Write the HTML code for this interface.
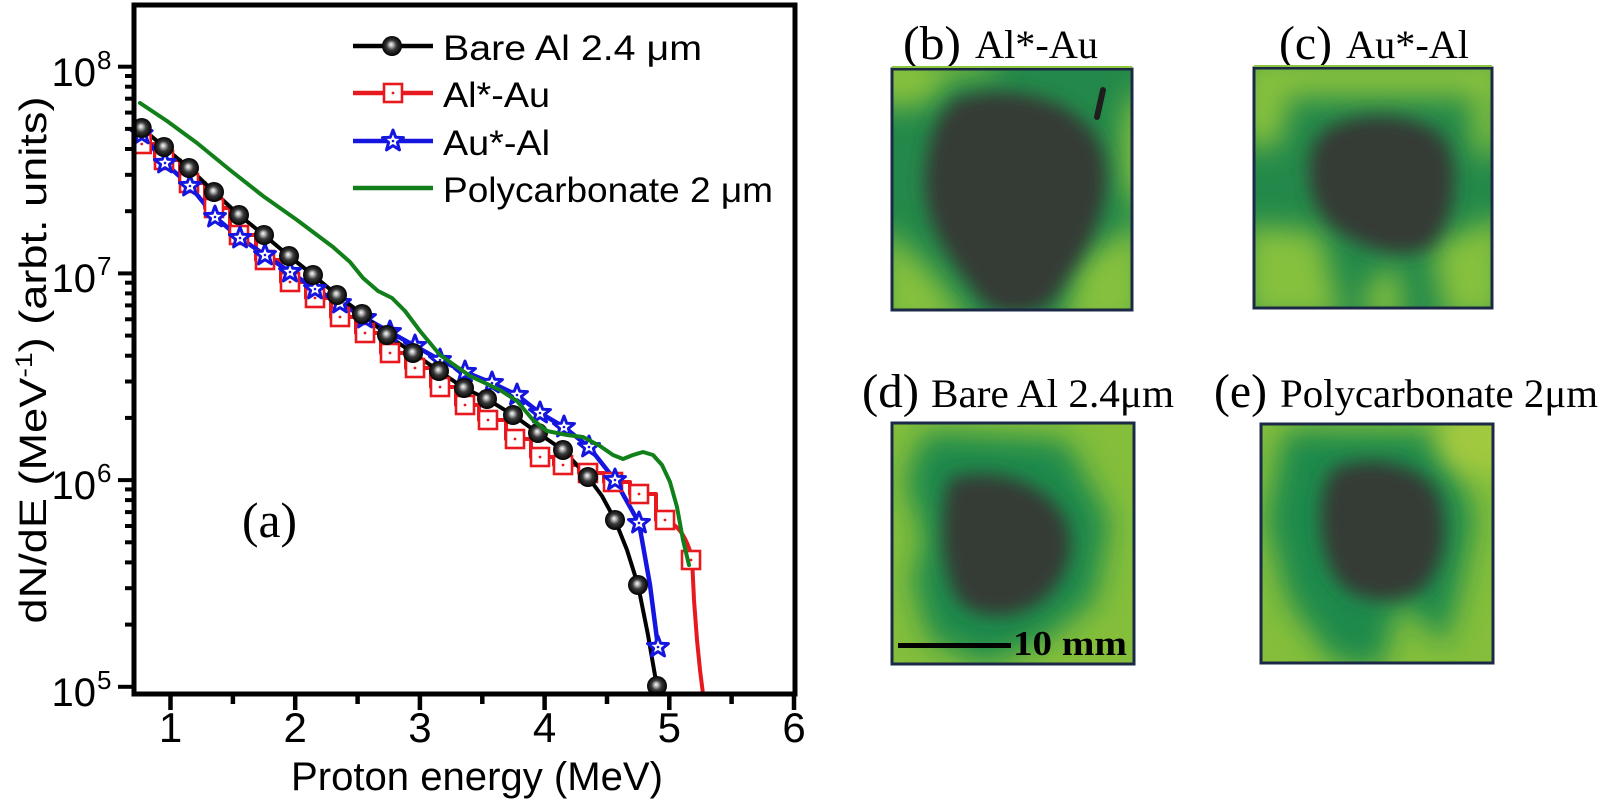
<!DOCTYPE html>
<html>
<head>
<meta charset="utf-8">
<style>
  html,body{margin:0;padding:0;background:#fff;}
  svg{display:block;}
</style>
</head>
<body>
<svg width="1600" height="804" viewBox="0 0 1600 804" xmlns="http://www.w3.org/2000/svg">
  <defs>
    <radialGradient id="sph" cx="0.5" cy="0.5" r="0.5" fx="0.45" fy="0.42">
      <stop offset="0" stop-color="#ffffff"/>
      <stop offset="0.22" stop-color="#b0b0b0"/>
      <stop offset="0.5" stop-color="#3a3a3a"/>
      <stop offset="1" stop-color="#000000"/>
    </radialGradient>
    <g id="mcirc"><circle r="10" fill="url(#sph)"/></g>
    <g id="msq"><rect x="-9" y="-9" width="18" height="18" fill="#fff" stroke="#e8191e" stroke-width="2.6"/><circle r="1.4" fill="#e8191e"/></g>
    <g id="mstar"><path d="M0,-11 L2.70,-3.72 L10.46,-3.40 L4.37,1.42 L6.47,8.90 L0,4.6 L-6.47,8.90 L-4.37,1.42 L-10.46,-3.40 L-2.70,-3.72 Z" fill="#fff" stroke="#1515e0" stroke-width="3" stroke-linejoin="round"/><circle r="1.3" fill="#1515e0"/></g>
    <filter id="b9" x="-30%" y="-30%" width="160%" height="160%"><feGaussianBlur stdDeviation="9"/></filter>
    <filter id="b14" x="-40%" y="-40%" width="180%" height="180%"><feGaussianBlur stdDeviation="14"/></filter>
    <clipPath id="cb"><rect x="892" y="69" width="240" height="241"/></clipPath>
    <clipPath id="cc"><rect x="1254" y="68" width="238" height="240"/></clipPath>
    <clipPath id="cd"><rect x="892" y="423" width="242" height="241"/></clipPath>
    <clipPath id="ce"><rect x="1261" y="424" width="232" height="239"/></clipPath>
  </defs>

  <!-- ================= CHART (a) ================= -->
  <g font-family="'Liberation Sans', Arial, sans-serif" fill="#000">
    <!-- series: red (Al*-Au) -->
    <path d="M136,144 H155 V160 H180 V183 H205 V208 H230 V235 H256 V260 H281 V282 H306 V298 H331 V317 H356 V333 H381 V353 H406 V368 H431 V387 H456 V405 H479 V420 H506 V439 H531 V457 H554 V465 H579 V473 H604 V482 H630 V494 H656 V520 L665,520 Q684,526 692,558 L694,600 L697,640 L700,670 L703,694"
          fill="none" stroke="#e8191e" stroke-width="4" stroke-linejoin="round"/>
    <!-- series: blue (Au*-Al) -->
    <polyline points="141.7,134 165,163 190,186 215,217 240,238 265,255 290,272 315,289 340,303 365,318 390,332 415,346 440,360 465,372 492,383 517,395 540,413 564,427 589,447 615,480 639,523 650,585 658,647"
          fill="none" stroke="#1515e0" stroke-width="4.5" stroke-linejoin="round" stroke-linecap="round"/>
    <!-- series: black (Bare Al) -->
    <polyline points="141.7,128 164,147 189,168 214,192 239,215 264,235 289,256 313,275 337,295 362,314 387,335 413,353 439,371 464,388 487,399 513,415 538,433 563,450 588,477 602,496 615,520 627,550 638,585 648,635 657,687 658,694"
          fill="none" stroke="#000" stroke-width="4" stroke-linejoin="round"/>

    <!-- red markers -->
    <g>
      <use href="#msq" x="141.7" y="144"/><use href="#msq" x="164" y="160"/><use href="#msq" x="189" y="183"/>
      <use href="#msq" x="214" y="208"/><use href="#msq" x="239" y="235"/><use href="#msq" x="265" y="260"/>
      <use href="#msq" x="290" y="282"/><use href="#msq" x="315" y="298"/><use href="#msq" x="340" y="317"/>
      <use href="#msq" x="365" y="333"/><use href="#msq" x="390" y="353"/><use href="#msq" x="415" y="368"/>
      <use href="#msq" x="440" y="387"/><use href="#msq" x="465" y="405"/><use href="#msq" x="488" y="420"/>
      <use href="#msq" x="515" y="439"/><use href="#msq" x="540" y="457"/><use href="#msq" x="563" y="465"/>
      <use href="#msq" x="588" y="473"/><use href="#msq" x="613" y="482"/><use href="#msq" x="639" y="494"/>
      <use href="#msq" x="665" y="520"/><use href="#msq" x="691" y="560"/>
    </g>
    <!-- blue markers -->
    <g>
      <use href="#mstar" x="141.7" y="134"/><use href="#mstar" x="165" y="163"/><use href="#mstar" x="190" y="186"/>
      <use href="#mstar" x="215" y="217"/><use href="#mstar" x="240" y="238"/><use href="#mstar" x="265" y="255"/>
      <use href="#mstar" x="290" y="272"/><use href="#mstar" x="315" y="289"/><use href="#mstar" x="340" y="303"/>
      <use href="#mstar" x="365" y="318"/><use href="#mstar" x="390" y="332"/><use href="#mstar" x="415" y="346"/>
      <use href="#mstar" x="440" y="360"/><use href="#mstar" x="465" y="372"/><use href="#mstar" x="492" y="383"/>
      <use href="#mstar" x="517" y="395"/><use href="#mstar" x="540" y="413"/><use href="#mstar" x="564" y="427"/>
      <use href="#mstar" x="589" y="447"/><use href="#mstar" x="615" y="480"/><use href="#mstar" x="639" y="523"/>
      <use href="#mstar" x="658" y="647"/>
    </g>
    <!-- black markers -->
    <g>
      <use href="#mcirc" x="141.7" y="128"/><use href="#mcirc" x="164" y="147"/><use href="#mcirc" x="189" y="168"/>
      <use href="#mcirc" x="214" y="192"/><use href="#mcirc" x="239" y="215"/><use href="#mcirc" x="264" y="235"/>
      <use href="#mcirc" x="289" y="256"/><use href="#mcirc" x="313" y="275"/><use href="#mcirc" x="337" y="295"/>
      <use href="#mcirc" x="362" y="314"/><use href="#mcirc" x="387" y="335"/><use href="#mcirc" x="413" y="353"/>
      <use href="#mcirc" x="439" y="371"/><use href="#mcirc" x="464" y="388"/><use href="#mcirc" x="487" y="399"/>
      <use href="#mcirc" x="513" y="415"/><use href="#mcirc" x="538" y="433"/><use href="#mcirc" x="563" y="450"/>
      <use href="#mcirc" x="588" y="477"/><use href="#mcirc" x="615" y="520"/><use href="#mcirc" x="638" y="585"/>
      <use href="#mcirc" x="657" y="686"/>
    </g>
    <!-- green (Polycarbonate) -->
    <polyline points="140,103 167,121 197,143 230,170 263,196 297,220 333,247 350,262 363,278 378,291 392,298 405,311 420,331 440,355 470,376 500,390 517,401 533,420 547,431 567,435 583,437 600,446 613,455 623,459 633,455 643,452 653,455 662,465 670,482 677,507 683,540 689,565"
          fill="none" stroke="#12801a" stroke-width="4" stroke-linejoin="round" stroke-linecap="round"/>

    <!-- frame -->
    <rect x="134" y="5" width="661" height="689" fill="none" stroke="#000" stroke-width="5"/>

    <!-- x ticks -->
    <g stroke="#000" stroke-width="4.5">
      <line x1="170.5" y1="694" x2="170.5" y2="710"/>
      <line x1="295.2" y1="694" x2="295.2" y2="710"/>
      <line x1="419.9" y1="694" x2="419.9" y2="710"/>
      <line x1="544.6" y1="694" x2="544.6" y2="710"/>
      <line x1="669.3" y1="694" x2="669.3" y2="710"/>
      <line x1="794" y1="694" x2="794" y2="710"/>
      <line x1="232.9" y1="694" x2="232.9" y2="704"/>
      <line x1="357.6" y1="694" x2="357.6" y2="704"/>
      <line x1="482.3" y1="694" x2="482.3" y2="704"/>
      <line x1="607" y1="694" x2="607" y2="704"/>
      <line x1="731.6" y1="694" x2="731.6" y2="704"/>
    </g>
    <!-- y ticks -->
    <g stroke="#000" stroke-width="4">
      <line x1="118" y1="66.7" x2="134" y2="66.7"/>
      <line x1="118" y1="273.4" x2="134" y2="273.4"/>
      <line x1="118" y1="480.1" x2="134" y2="480.1"/>
      <line x1="118" y1="686.8" x2="134" y2="686.8"/>
      <g>
        <line x1="125" y1="624.6" x2="134" y2="624.6"/><line x1="125" y1="588.2" x2="134" y2="588.2"/>
        <line x1="125" y1="562.4" x2="134" y2="562.4"/><line x1="125" y1="542.3" x2="134" y2="542.3"/>
        <line x1="125" y1="526.0" x2="134" y2="526.0"/><line x1="125" y1="512.1" x2="134" y2="512.1"/>
        <line x1="125" y1="500.1" x2="134" y2="500.1"/><line x1="125" y1="489.4" x2="134" y2="489.4"/>
        <line x1="125" y1="417.9" x2="134" y2="417.9"/><line x1="125" y1="381.5" x2="134" y2="381.5"/>
        <line x1="125" y1="355.7" x2="134" y2="355.7"/><line x1="125" y1="335.6" x2="134" y2="335.6"/>
        <line x1="125" y1="319.3" x2="134" y2="319.3"/><line x1="125" y1="305.4" x2="134" y2="305.4"/>
        <line x1="125" y1="293.4" x2="134" y2="293.4"/><line x1="125" y1="282.7" x2="134" y2="282.7"/>
        <line x1="125" y1="211.2" x2="134" y2="211.2"/><line x1="125" y1="174.8" x2="134" y2="174.8"/>
        <line x1="125" y1="149.0" x2="134" y2="149.0"/><line x1="125" y1="128.9" x2="134" y2="128.9"/>
        <line x1="125" y1="112.6" x2="134" y2="112.6"/><line x1="125" y1="98.7" x2="134" y2="98.7"/>
        <line x1="125" y1="86.7" x2="134" y2="86.7"/><line x1="125" y1="76.0" x2="134" y2="76.0"/>
      </g>
    </g>

    <!-- x tick labels -->
    <g font-size="42" text-anchor="middle">
      <text x="170.5" y="742">1</text>
      <text x="295.2" y="742">2</text>
      <text x="419.9" y="742">3</text>
      <text x="544.6" y="742">4</text>
      <text x="669.3" y="742">5</text>
      <text x="794" y="742">6</text>
    </g>
    <!-- y tick labels -->
    <g font-size="40">
      <text x="96" y="86" text-anchor="end">10</text><text x="97" y="69" font-size="26">8</text>
      <text x="96" y="292" text-anchor="end">10</text><text x="97" y="275" font-size="26">7</text>
      <text x="96" y="499" text-anchor="end">10</text><text x="97" y="482" font-size="26">6</text>
      <text x="96" y="706" text-anchor="end">10</text><text x="97" y="689" font-size="26">5</text>
    </g>

    <!-- axis titles -->
    <text x="477" y="790" font-size="40" text-anchor="middle" textLength="372" lengthAdjust="spacingAndGlyphs">Proton energy (MeV)</text>
    <text transform="translate(46,360) rotate(-90)" font-size="38" text-anchor="middle" textLength="527" lengthAdjust="spacingAndGlyphs">dN/dE (MeV<tspan font-size="24" dy="-14">-1</tspan><tspan dy="14">) (arbt. units)</tspan></text>

    <!-- legend -->
    <g stroke-width="4.5">
      <line x1="353" y1="46" x2="433" y2="46" stroke="#000"/>
      <line x1="353" y1="93" x2="433" y2="93" stroke="#e8191e"/>
      <line x1="353" y1="141" x2="433" y2="141" stroke="#1515e0"/>
      <line x1="353" y1="188" x2="433" y2="188" stroke="#12801a"/>
    </g>
    <use href="#mcirc" x="392" y="46"/>
    <use href="#msq" x="393" y="93"/>
    <use href="#mstar" x="393" y="141"/>
    <g font-size="35">
      <text x="443" y="60" textLength="259" lengthAdjust="spacingAndGlyphs">Bare Al 2.4 μm</text>
      <text x="443" y="107" textLength="107" lengthAdjust="spacingAndGlyphs">Al*-Au</text>
      <text x="443" y="155" textLength="107" lengthAdjust="spacingAndGlyphs">Au*-Al</text>
      <text x="443" y="202" textLength="330" lengthAdjust="spacingAndGlyphs">Polycarbonate 2 μm</text>
    </g>

    <text x="242" y="537" font-family="'Liberation Serif', 'Times New Roman', serif" font-size="50" textLength="55" lengthAdjust="spacingAndGlyphs">(a)</text>
  </g>

  <!-- ================= PANEL LABELS ================= -->
  <g font-family="'Liberation Serif', 'Times New Roman', serif" fill="#000">
    <text x="903" y="59" font-size="48" textLength="58" lengthAdjust="spacingAndGlyphs">(b)</text>
    <text x="975" y="58" font-size="40" textLength="123" lengthAdjust="spacingAndGlyphs">Al*-Au</text>
    <text x="1279" y="59" font-size="48" textLength="53" lengthAdjust="spacingAndGlyphs">(c)</text>
    <text x="1346" y="58" font-size="40" textLength="123" lengthAdjust="spacingAndGlyphs">Au*-Al</text>
    <text x="862" y="407" font-size="48" textLength="57" lengthAdjust="spacingAndGlyphs">(d)</text>
    <text x="931" y="407" font-size="40" textLength="243" lengthAdjust="spacingAndGlyphs">Bare Al 2.4μm</text>
    <text x="1214" y="407" font-size="48" textLength="53" lengthAdjust="spacingAndGlyphs">(e)</text>
    <text x="1280" y="407" font-size="40" textLength="318" lengthAdjust="spacingAndGlyphs">Polycarbonate 2μm</text>
  </g>

  <!-- ================= IMAGE (b) ================= -->
  <g clip-path="url(#cb)">
    <rect x="892" y="69" width="240" height="241" fill="#23894a"/>
    <g filter="url(#b14)" fill="#86c13c">
      <ellipse cx="900" cy="78" rx="45" ry="30"/>
      <polygon points="880,225 930,270 975,330 880,330"/>
      <polygon points="1060,330 1080,260 1145,220 1145,330"/>
      <ellipse cx="1140" cy="150" rx="18" ry="60"/>
      <ellipse cx="960" cy="66" rx="40" ry="10"/>
    </g>
    <path d="M958,98 C1010,82 1092,98 1105,160 C1114,215 1078,262 1052,302 C1030,320 995,317 983,302 C952,262 918,222 926,165 C930,130 943,106 958,98 Z"
          fill="#363a35" filter="url(#b9)"/>
    <line x1="1103" y1="90" x2="1097" y2="117" stroke="#1e1e1e" stroke-width="6" stroke-linecap="round"/>
  </g>
  <rect x="892" y="69" width="240" height="241" fill="none" stroke="#1b2846" stroke-width="3"/>
  <line x1="892" y1="67" x2="1132" y2="67" stroke="#8cc63f" stroke-width="2"/>

  <!-- ================= IMAGE (c) ================= -->
  <g clip-path="url(#cc)">
    <rect x="1254" y="68" width="238" height="240" fill="#23894a"/>
    <g filter="url(#b14)" fill="#86c13c">
      <rect x="1240" y="55" width="270" height="42"/>
      <ellipse cx="1262" cy="110" rx="25" ry="40"/>
      <polygon points="1245,225 1320,232 1342,320 1245,320"/>
      <polygon points="1365,290 1395,262 1405,320 1368,320"/>
      <polygon points="1432,245 1505,215 1505,320 1445,320"/>
      <ellipse cx="1487" cy="120" rx="15" ry="40"/>
    </g>
    <path d="M1316,140 C1338,108 1420,108 1445,140 C1462,170 1455,222 1430,247 C1400,262 1358,247 1333,227 C1308,207 1303,165 1316,140 Z"
          fill="#363a35" filter="url(#b9)"/>
  </g>
  <rect x="1254" y="68" width="238" height="240" fill="none" stroke="#1b2846" stroke-width="3"/>
  <line x1="1254" y1="66" x2="1492" y2="66" stroke="#8cc63f" stroke-width="2"/>

  <!-- ================= IMAGE (d) ================= -->
  <g clip-path="url(#cd)">
    <rect x="892" y="423" width="242" height="241" fill="#84be3b"/>
    <polygon points="925,432 1065,440 1110,520 1095,600 1045,640 985,665 930,640 912,580 925,540 905,480"
             fill="#1f8a4c" filter="url(#b14)"/>
    <path d="M950,478 C985,468 1035,476 1060,510 C1080,540 1070,575 1045,598 C1020,620 978,622 958,600 C940,570 938,510 950,478 Z"
          fill="#363a35" filter="url(#b9)"/>
    <rect x="898" y="643" width="113" height="5" fill="#000"/>
    <text x="1013" y="655" font-family="'Liberation Serif', 'Times New Roman', serif" font-weight="bold" font-size="35" textLength="114" lengthAdjust="spacingAndGlyphs" fill="#000">10 mm</text>
  </g>
  <rect x="892" y="423" width="242" height="241" fill="none" stroke="#1b2846" stroke-width="3"/>

  <!-- ================= IMAGE (e) ================= -->
  <g clip-path="url(#ce)">
    <rect x="1261" y="424" width="232" height="239" fill="#84be3b"/>
    <polygon points="1285,430 1445,432 1475,520 1460,590 1445,645 1400,600 1380,670 1332,660 1288,600 1266,520"
             fill="#1f8a4c" filter="url(#b14)"/>
    <ellipse cx="1480" cy="440" rx="45" ry="35" fill="#a2c93f" filter="url(#b14)"/>
    <path d="M1332,470 C1357,455 1415,458 1436,490 C1451,520 1446,570 1421,590 C1396,605 1357,605 1337,580 C1317,550 1315,495 1332,470 Z"
          fill="#363a35" filter="url(#b9)"/>
  </g>
  <rect x="1261" y="424" width="232" height="239" fill="none" stroke="#1b2846" stroke-width="3"/>
</svg>
</body>
</html>
